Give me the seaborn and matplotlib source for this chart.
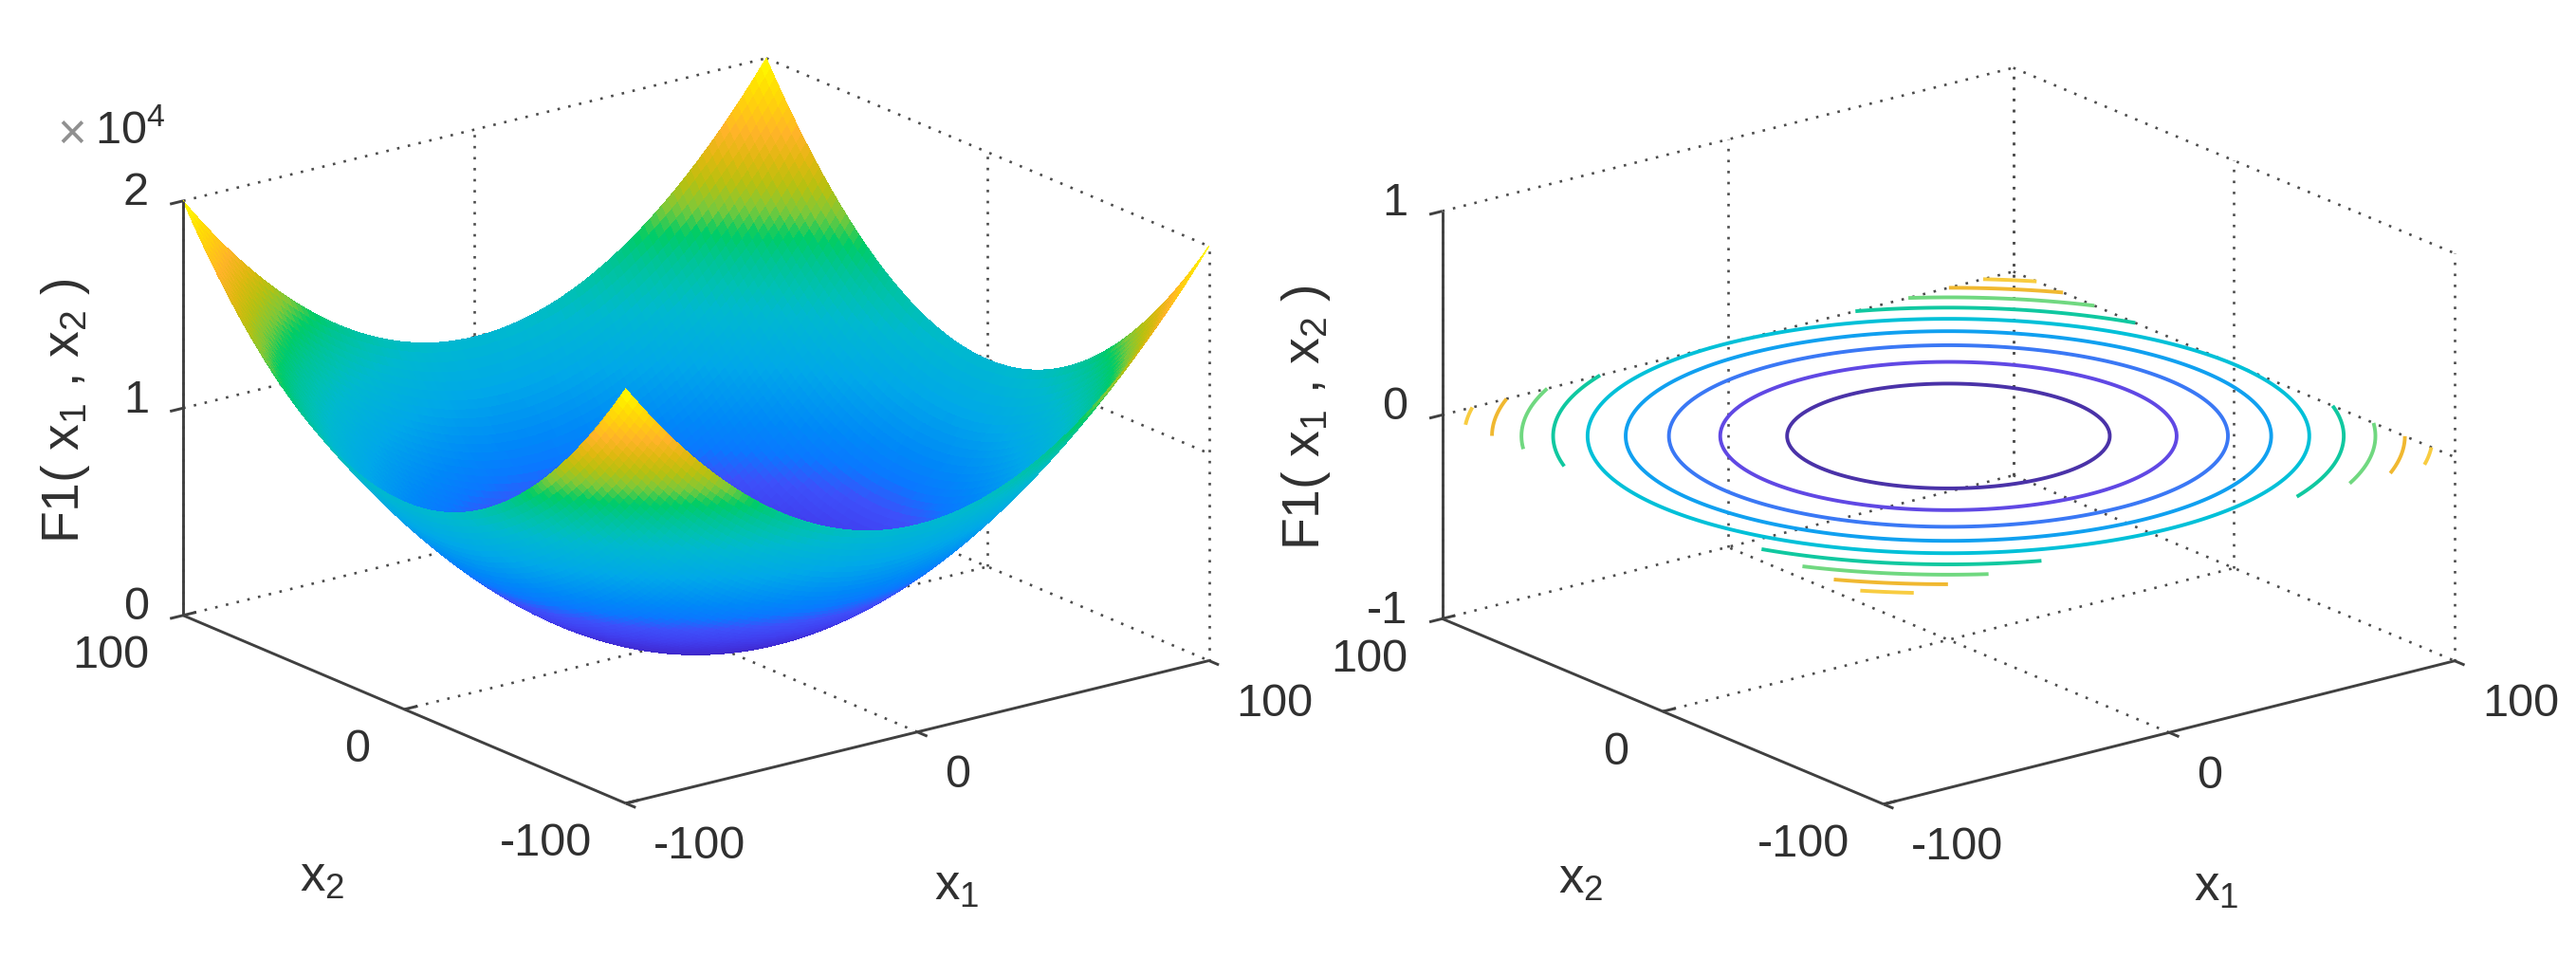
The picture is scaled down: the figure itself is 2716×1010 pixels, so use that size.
import numpy as np
import matplotlib
matplotlib.use("Agg")
import matplotlib.pyplot as plt
from matplotlib.transforms import offset_copy
from mpl_toolkits.mplot3d import proj3d
import seaborn as sns

# grid along x1 and x2, and the F1 share of one coordinate at each grid value
x_values = [-100, -98, -96, -94, -92, -90, -88, -86, -84, -82, -80, -78, -76, -74, -72, -70, -68, -66, -64, -62,
            -60, -58, -56, -54, -52, -50, -48, -46, -44, -42, -40, -38, -36, -34, -32, -30, -28, -26, -24, -22,
            -20, -18, -16, -14, -12, -10, -8, -6, -4, -2, 0,
            2, 4, 6, 8, 10, 12, 14, 16, 18, 20, 22, 24, 26, 28, 30, 32, 34, 36, 38,
            40, 42, 44, 46, 48, 50, 52, 54, 56, 58, 60, 62, 64, 66, 68, 70, 72, 74, 76, 78,
            80, 82, 84, 86, 88, 90, 92, 94, 96, 98, 100]
f1_share = [10000, 9604, 9216, 8836, 8464, 8100, 7744, 7396, 7056, 6724, 6400, 6084, 5776, 5476, 5184, 4900, 4624, 4356, 4096, 3844,
            3600, 3364, 3136, 2916, 2704, 2500, 2304, 2116, 1936, 1764, 1600, 1444, 1296, 1156, 1024, 900, 784, 676, 576, 484,
            400, 324, 256, 196, 144, 100, 64, 36, 16, 4, 0,
            4, 16, 36, 64, 100, 144, 196, 256, 324, 400, 484, 576, 676, 784, 900, 1024, 1156, 1296, 1444,
            1600, 1764, 1936, 2116, 2304, 2500, 2704, 2916, 3136, 3364, 3600, 3844, 4096, 4356, 4624, 4900, 5184, 5476, 5776, 6084,
            6400, 6724, 7056, 7396, 7744, 8100, 8464, 8836, 9216, 9604, 10000]

contour_levels = [2000, 4000, 6000, 8000, 10000, 12000, 14000, 16000, 18000]
contour_colors = ['#4a32a8', '#6048e4', '#3a78f5', '#10a0f0', '#00c0d8', '#10c8a0', '#70d880', '#f0b830', '#f8cc40']
surface_colors = ['#3a1fb0', '#3f28c8', '#4030dc', '#4040f0', '#3d50fa', '#0a78ff', '#0088f8',
                  '#0098f0', '#00a8e8', '#00b0dc', '#00b8d0', '#00c0b4', '#00c494', '#00cc66',
                  '#80c838', '#b8c010', '#e0b810', '#ffb428', '#ffcc10', '#ffe400', '#ffff00']

xy_ticks = [-100, 0, 100]
xy_ticklabels = ['-100', '0', '100']
surf_zticks = [0, 10000, 20000]
surf_zticklabels = ['0', '1', '2']
cont_zticks = [-1, 0, 1]
cont_zticklabels = ['-1', '0', '1']

TEXT = '#303030'
LINE = '#404040'
DOT = '#4c4c4c'
FS = 35
W, H = 2716, 1010

sns.set_theme(style='white')
plt.rcParams['font.family'] = ['Liberation Sans', 'DejaVu Sans']

x = np.array(x_values, dtype=float)
share = np.array(f1_share, dtype=float)
X, Y = np.meshgrid(x, x)
F1 = share[:, None] + share[None, :]

parula = sns.blend_palette(surface_colors, as_cmap=True)

fig = plt.figure(figsize=(W / 100, H / 100), dpi=100)


def make_axes(left, bottom, side, azim, elev, zratio):
    ax = fig.add_axes([left / W, bottom / H, side / W, side / H], projection='3d',
                      proj_type='ortho', computed_zorder=False)
    ax.view_init(elev=elev, azim=azim)
    ax.set_box_aspect((1, 1, zratio))
    ax.set_axis_off()
    ax.patch.set_alpha(0)
    return ax


def label(ax, px, py, pz, s, dx, dy, **kw):
    # anchor on the projected 3d point, then shift in pixels
    sx, sy, _ = proj3d.proj_transform(px, py, pz, ax.get_proj())
    tr = offset_copy(ax.transData, fig=fig, x=dx, y=dy, units='dots')
    kw.setdefault('ha', 'center')
    kw.setdefault('va', 'center')
    kw.setdefault('fontsize', FS)
    kw.setdefault('color', TEXT)
    ax.text2D(sx, sy, s, transform=tr, **kw)


def draw_frame(ax, zlim, zticks, zticklabels, zlabel_dx, x1label_dx):
    z0, z1 = zlim
    dots = dict(color=DOT, lw=1.9, ls=(0, (1, 3.4)), zorder=1)
    solid = dict(color=LINE, lw=2.1, zorder=5, solid_capstyle='butt')
    # walls and floor at the back
    for z in zticks:
        ax.plot([-100, 100], [100, 100], [z, z], **dots)
        ax.plot([100, 100], [100, -100], [z, z], **dots)
    for v in xy_ticks:
        ax.plot([v, v], [100, 100], [z0, z1], **dots)
        ax.plot([100, 100], [v, v], [z0, z1], **dots)
    ax.plot([0, 0], [-100, 100], [z0, z0], **dots)
    ax.plot([-100, 100], [0, 0], [z0, z0], **dots)
    # solid axes
    ax.plot([-100, -100], [100, 100], [z0, z1], **solid)
    ax.plot([-100, -100], [100, -100], [z0, z0], **solid)
    ax.plot([-100, 100], [-100, -100], [z0, z0], **solid)
    for z in zticks:
        ax.plot([-104.5, -100], [100, 100], [z, z], **solid)
    for v in xy_ticks:
        ax.plot([-100, -95.5], [v, v], [z0, z0], **solid)
        ax.plot([v, v], [-100, -104.5], [z0, z0], **solid)
    ax.set_xlim(-100, 100, view_margin=0)
    ax.set_ylim(-100, 100, view_margin=0)
    ax.set_zlim(z0, z1, view_margin=0)
    for z, s in zip(zticks, zticklabels):
        label(ax, -100, 100, z, s, -36, 8, ha='right')
    for v, s in zip(xy_ticks, xy_ticklabels):
        label(ax, -100, v, z0, s, -36, -43, ha='right')
        label(ax, v, -100, z0, s, 29, -46, ha='left')
    label(ax, -100, 0, z0, r'$\mathregular{x_2}$', -87, -178, fontsize=38)
    label(ax, 0, -100, z0, r'$\mathregular{x_1}$', x1label_dx, -163, fontsize=38)
    label(ax, -100, 100, (z0 + z1) / 2, r'F1( $\mathregular{x_1}$ , $\mathregular{x_2}$ )',
          zlabel_dx, -3, rotation=90, fontsize=40)


ax1 = make_axes(143, -35, 1150.6, -127.2, 18.8, 0.598)
ax1.plot_surface(X, Y, F1, cmap=parula, vmin=0, vmax=20000, rstride=1, cstride=1,
                 linewidth=0, antialiased=False, shade=False, zorder=3)
draw_frame(ax1, (0, 20000), surf_zticks, surf_zticklabels, -124, 42)
label(ax1, -100, 100, 20000, '\u00d7', -117, 68, color='#909090', fontsize=38)
label(ax1, -100, 100, 20000, r'$\mathregular{10^{4}}$', -56, 72)

ax2 = make_axes(1472, -32, 1134, -127.7, 18.95, 0.597)
ax2.contour(X, Y, F1, levels=contour_levels, colors=contour_colors, zdir='z', offset=0,
            linewidths=2.8, zorder=3)
draw_frame(ax2, (-1, 1), cont_zticks, cont_zticklabels, -144, 50)

fig.savefig('out.png', dpi=100)
